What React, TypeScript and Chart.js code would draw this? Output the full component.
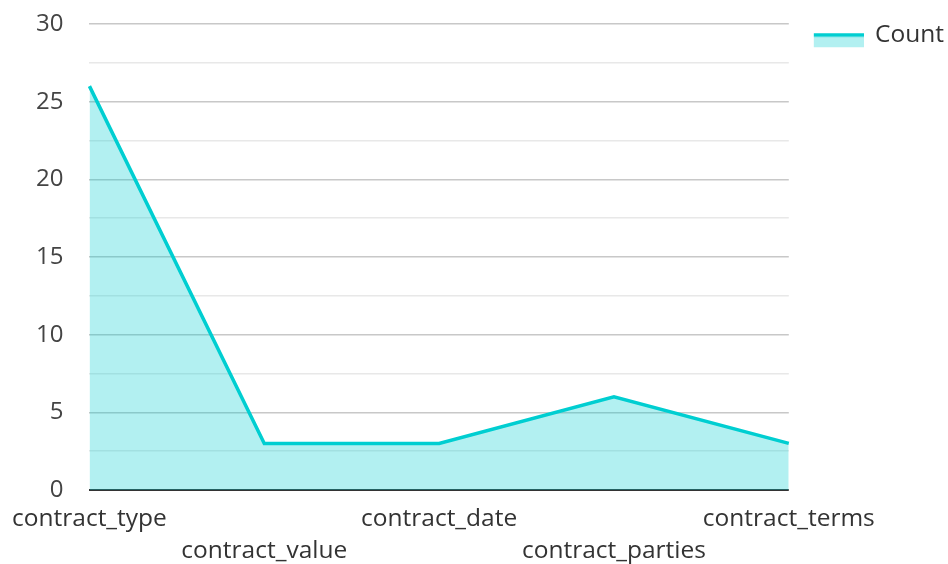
import React, { useEffect, useRef } from "react";
import { Chart, registerables } from "chart.js";

Chart.register(...registerables);

const categories = ["contract_type", "contract_value", "contract_date", "contract_parties", "contract_terms"];
const counts = [26, 3, 3, 6, 3];
const seriesLabel = "Count";

const LINE = "#00CED1";
const FILL = "rgba(0,206,209,0.3)";
const FONT = "'Open Sans', 'Noto Sans', sans-serif";

function makeLegendIcon(): HTMLCanvasElement {
  // transparent margin on the left/top so the swatch sits where the reference draws it
  const c = document.createElement("canvas");
  c.width = 74;
  c.height = 34;
  const ctx = c.getContext("2d")!;
  ctx.fillStyle = FILL;
  ctx.fillRect(24, 15, 50, 14);
  ctx.fillStyle = LINE;
  ctx.fillRect(24, 15, 50, 3.5);
  return c;
}

export default function App() {
  const ref = useRef<HTMLCanvasElement | null>(null);
  useEffect(() => {
    if (!ref.current) return;
    const icon = makeLegendIcon();
    const labels = categories.map((c, i) => (i % 2 === 1 ? ["", c] : [c, ""]));
    const chart = new Chart(ref.current, {
      type: "line",
      data: {
        labels,
        datasets: [
          {
            label: seriesLabel,
            data: counts,
            borderColor: LINE,
            backgroundColor: FILL,
            borderWidth: 3.5,
            fill: "origin",
            tension: 0,
            pointRadius: 0,
            pointHoverRadius: 0,
            pointStyle: icon as any,
          },
        ],
      },
      options: {
        animation: false,
        responsive: true,
        maintainAspectRatio: false,
        layout: { padding: { left: 10, top: 21, right: -6, bottom: 0 } },
        plugins: {
          tooltip: { enabled: false },
          legend: {
            position: "right",
            align: "start",
            labels: {
              usePointStyle: true,
              pointStyleWidth: 72,
              color: "#333",
              font: { family: FONT, size: 24.5 },
              padding: 2,
            },
          },
        },
        scales: {
          x: {
            offset: false,
            grid: { display: false, drawTicks: false },
            border: { display: false },
            afterFit: (s: any) => {
              s.height = 74;
              s.paddingLeft = 88;
            },
            ticks: {
              autoSkip: false,
              maxRotation: 0,
              minRotation: 0,
              color: "#333",
              padding: 13,
              font: { family: FONT, size: 24.5, lineHeight: 1.3 },
            },
          },
          y: {
            min: 0,
            max: 30,
            border: { display: false },
            afterFit: (s: any) => {
              s.paddingTop = 24;
            },
            grid: {
              drawTicks: false,
              color: (ctx: any) => {
                const v = ctx.tick?.value;
                if (v === 0) return "#333";
                return v % 5 === 0 ? "#c8c8c8" : "#e8e8e8";
              },
              lineWidth: (ctx: any) => (ctx.tick?.value === 0 ? 2 : 1.5),
            },
            ticks: {
              stepSize: 2.5,
              color: "#444",
              padding: 26,
              font: { family: FONT, size: 24 },
              callback: (v: any) => (Number(v) % 5 === 0 ? String(v) : ""),
            },
          },
        },
      },
    });
    return () => chart.destroy();
  }, []);
  return (
    <div style={{ position: "fixed", left: 0, top: 0, width: 948, height: 564, background: "#fff" }}>
      <canvas ref={ref} />
    </div>
  );
}
